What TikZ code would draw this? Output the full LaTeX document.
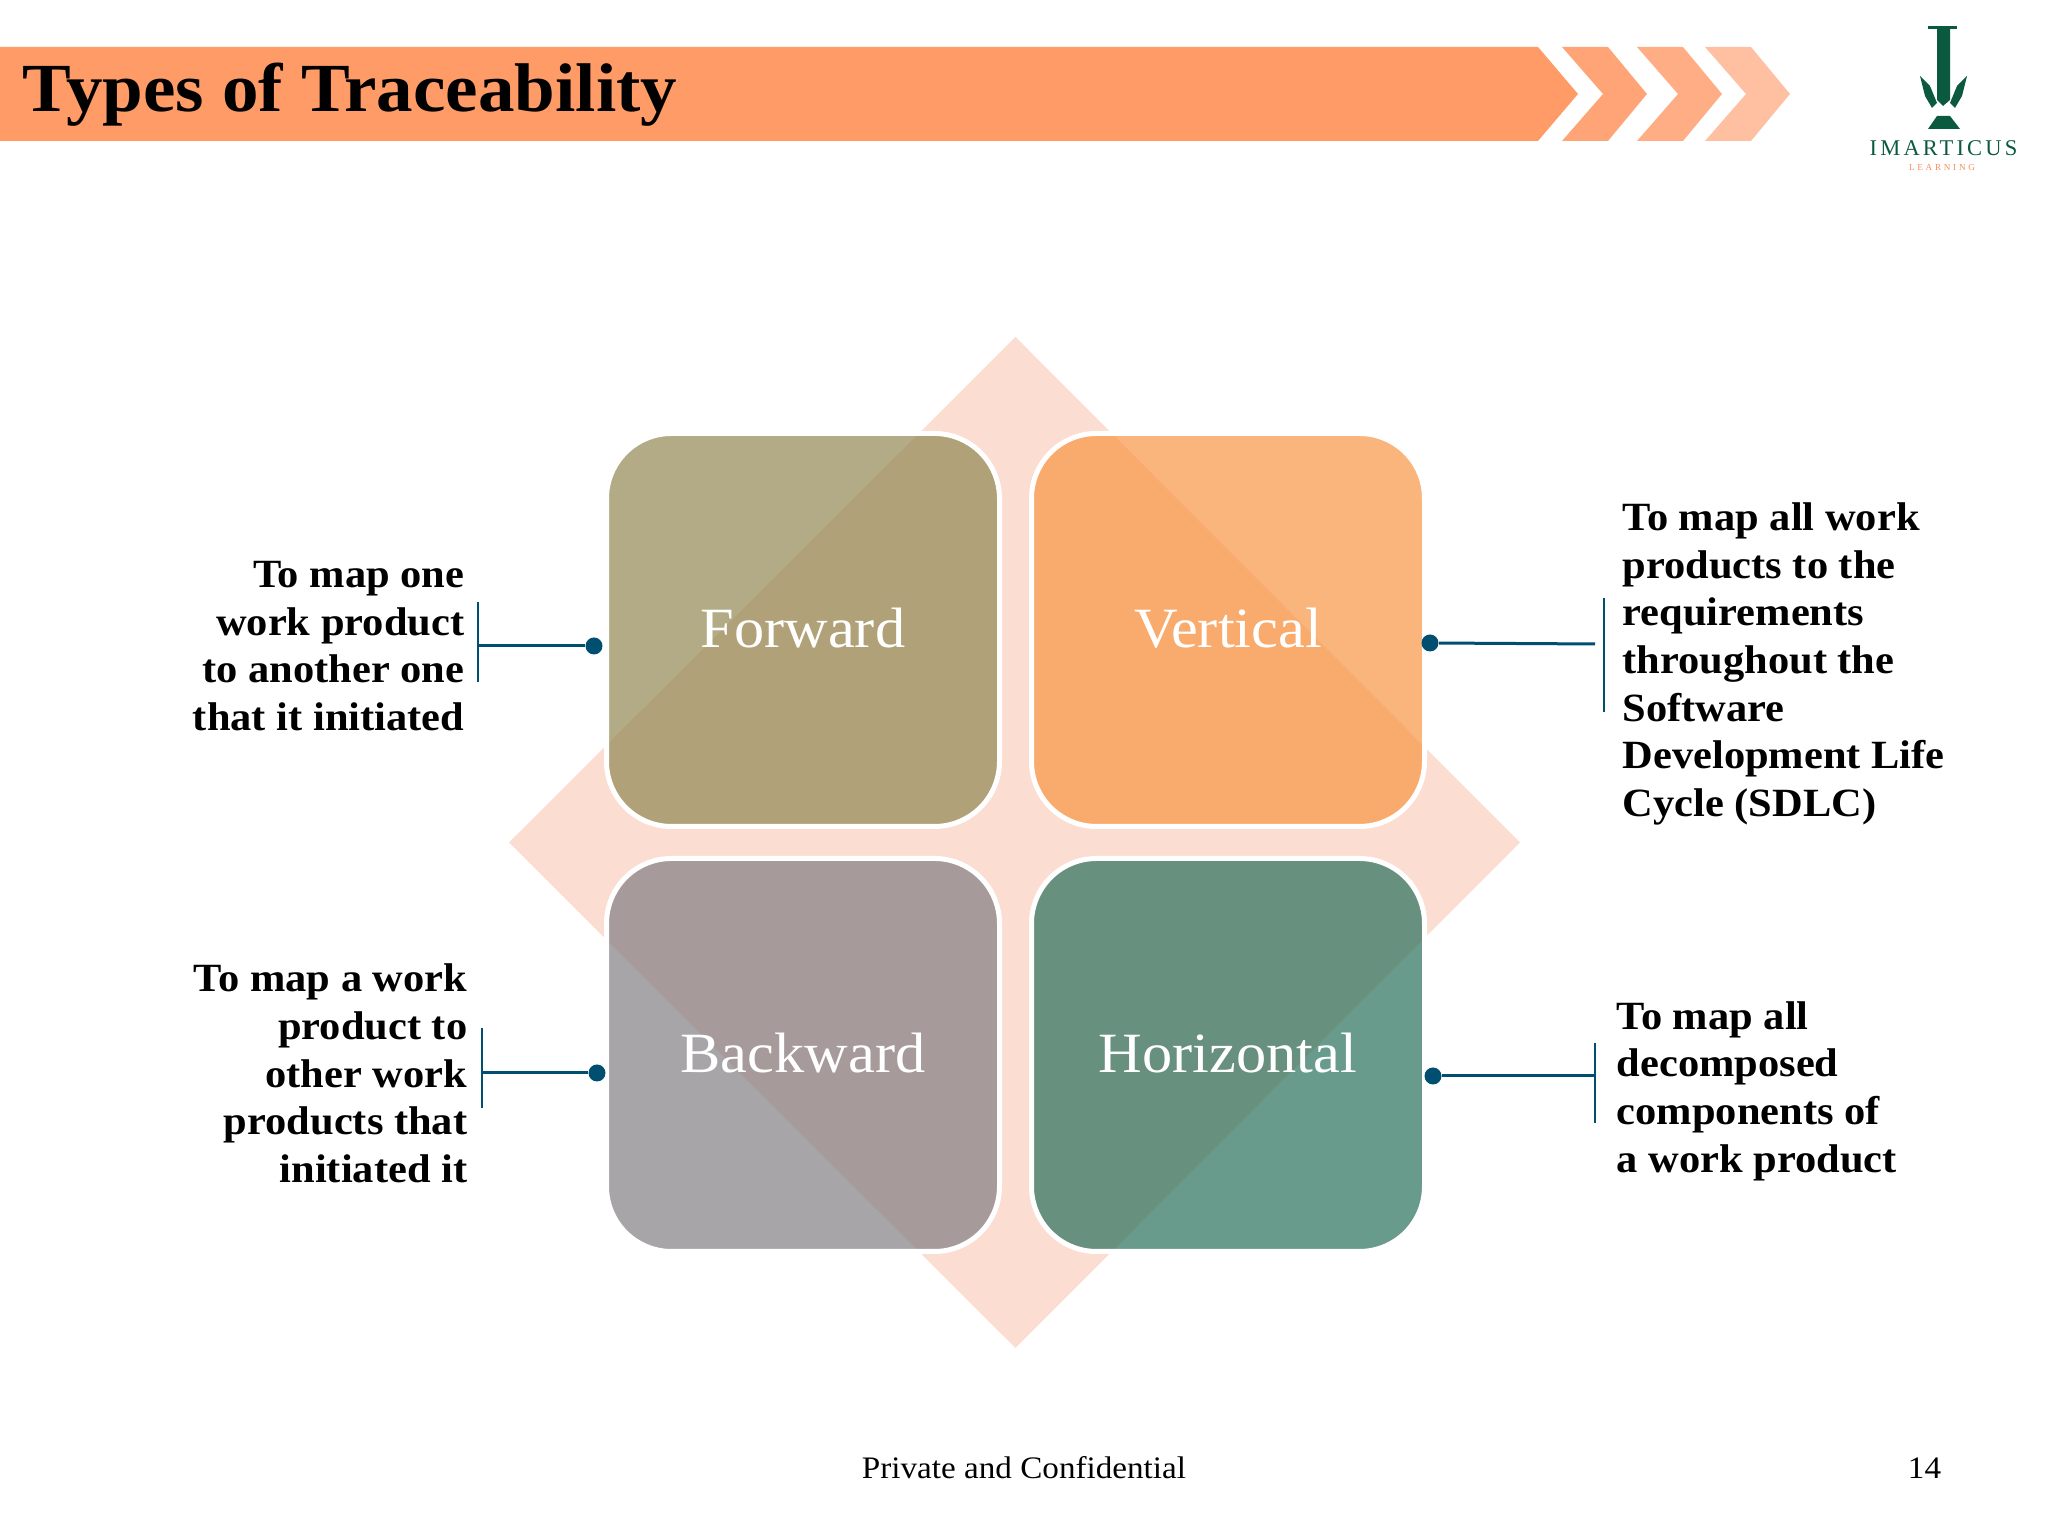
\documentclass[tikz,border=0pt]{standalone}
\usepackage{fontspec}
\usepackage{xcolor}
\setmainfont[FakeStretch=1.06]{Liberation Serif}
\newfontfamily\logofont[LetterSpace=14]{Liberation Serif}
\newfontfamily\logosmall[LetterSpace=30]{Liberation Serif}
\definecolor{barorange}{HTML}{FF9B66}
\definecolor{chevone}{HTML}{FFA477}
\definecolor{chevtwo}{HTML}{FFAD85}
\definecolor{chevthree}{HTML}{FFC0A2}
\definecolor{diamondpink}{HTML}{FCDDD1}
\definecolor{leadblue}{HTML}{004F71}
\definecolor{logogreen}{HTML}{0B5A40}
\definecolor{logoorange}{HTML}{F0905A}
\definecolor{olivebox}{HTML}{928853}
\definecolor{orangebox}{HTML}{F89645}
\definecolor{greybox}{HTML}{827F83}
\definecolor{greenbox}{HTML}{29705B}
\begin{document}
\begin{tikzpicture}[
  quadrant/.style={rectangle, rounded corners=.65cm, draw=white, line width=.05cm, inner sep=0pt,
    minimum width=3.93cm, minimum height=3.93cm, fill opacity=.7, text opacity=1, text=white,
    text depth=.05cm, font=\fontsize{16.2}{20}\selectfont},
  note/.style={inner sep=0pt, font=\fontsize{11.4}{13.57}\selectfont\bfseries},
  leaddot/.style={circle, fill=leadblue, inner sep=0pt, minimum size=.17cm},
  leader/.style={draw=leadblue, line width=.03cm},
  rail/.style={draw=leadblue, line width=.016cm}]
\useasboundingbox (0,0) rectangle (20.48,15.36);
\fill[barorange] (0,14.89) -- (15.38,14.89) -- (15.78,14.42) -- (15.38,13.95) -- (0,13.95) -- cycle;
\foreach \x/\c in {15.62/chevone, 16.37/chevtwo, 17.05/chevthree}
  \fill[\c] (\x,14.89) -- ++(.46,0) -- ++(.39,-.47) -- ++(-.39,-.47) -- ++(-.46,0) -- ++(.41,.47) -- cycle;
\node[anchor=base west, inner sep=0pt, font=\fontsize{19.6}{22}\selectfont\bfseries] (title) at (.22,14.24) {Types of Traceability};

\fill[diamondpink] (10.155,11.99) -- (15.2,6.935) -- (10.155,1.88) -- (5.09,6.935) -- cycle;

\node[quadrant, fill=olivebox] (forward) at (8.03,9.06) {Forward};
\node[quadrant, fill=orangebox] (vertical) at (12.28,9.06) {Vertical};
\node[quadrant, fill=greybox] (backward) at (8.03,4.81) {Backward};
\node[quadrant, fill=greenbox] (horizontal) at (12.28,4.81) {Horizontal};

\node[note, align=right, anchor=east] (forwardnote) at (4.65,8.9) {To map one\\work product\\to another one\\that it initiated};
\node[note, align=left, anchor=west] (verticalnote) at (16.22,8.72) {To map all work\\products to the\\requirements\\throughout the\\Software\\Development Life\\Cycle (SDLC)};
\node[note, align=right, anchor=east] (backwardnote) at (4.68,4.625) {To map a work\\product to\\other work\\products that\\initiated it};
\node[note, align=left, anchor=west] (horizontalnote) at (16.16,4.45) {To map all\\decomposed\\components of\\a work product};

\node[leaddot] (forwarddot) at (5.94,8.9) {};
\node[leaddot] (verticaldot) at (14.3,8.93) {};
\node[leaddot] (backwarddot) at (5.97,4.63) {};
\node[leaddot] (horizontaldot) at (14.33,4.6) {};

\coordinate (forwardtop) at (4.78,9.34);
\coordinate (forwardbot) at (4.78,8.54);
\coordinate (forwardmid) at (4.78,8.9);
\coordinate (verticaltop) at (16.04,9.38);
\coordinate (verticalbot) at (16.04,8.24);
\coordinate (verticalend) at (15.95,8.92);
\coordinate (backwardtop) at (4.82,5.08);
\coordinate (backwardbot) at (4.82,4.28);
\coordinate (backwardmid) at (4.82,4.63);
\coordinate (horizontaltop) at (15.95,4.93);
\coordinate (horizontalbot) at (15.95,4.13);
\coordinate (horizontalmid) at (15.95,4.6);

\draw[rail] (forwardtop) -- (forwardbot);
\draw[rail] (verticaltop) -- (verticalbot);
\draw[rail] (backwardtop) -- (backwardbot);
\draw[rail] (horizontaltop) -- (horizontalbot);
\draw[leader] (forwardmid) -- (forwarddot);
\draw[leader] (verticaldot) -- (verticalend);
\draw[leader] (backwardmid) -- (backwarddot);
\draw[leader] (horizontaldot) -- (horizontalmid);

\fill[logogreen] (19.28,15.1) rectangle (19.57,15.065);
\fill[logogreen] (19.37,15.08) -- (19.5,15.08) -- (19.5,14.36) -- (19.43,14.3) -- (19.37,14.36) -- cycle;
\fill[logogreen] (19.2,14.6) -- (19.3,14.5) -- (19.37,14.33) -- (19.32,14.28) -- (19.25,14.4) -- cycle;
\fill[logogreen] (19.67,14.6) -- (19.57,14.5) -- (19.5,14.33) -- (19.55,14.28) -- (19.62,14.4) -- cycle;
\fill[logogreen] (19.28,14.07) -- (19.37,14.2) -- (19.5,14.2) -- (19.6,14.07) -- cycle;
\node[inner sep=0pt, text=logogreen, font=\fontsize{6.4}{7}\logofont] (logoname) at (19.435,13.875) {IMARTICUS};
\node[inner sep=0pt, text=logoorange, font=\fontsize{2.6}{3}\logosmall] (logosub) at (19.42,13.68) {LEARNING};

\node[anchor=base, inner sep=0pt, font=\fontsize{8.9}{10}\selectfont] (footer) at (10.24,.57) {Private and Confidential};
\node[anchor=base, inner sep=0pt, font=\fontsize{8.9}{10}\selectfont] (pagenum) at (19.245,.57) {14};
\end{tikzpicture}
\end{document}
